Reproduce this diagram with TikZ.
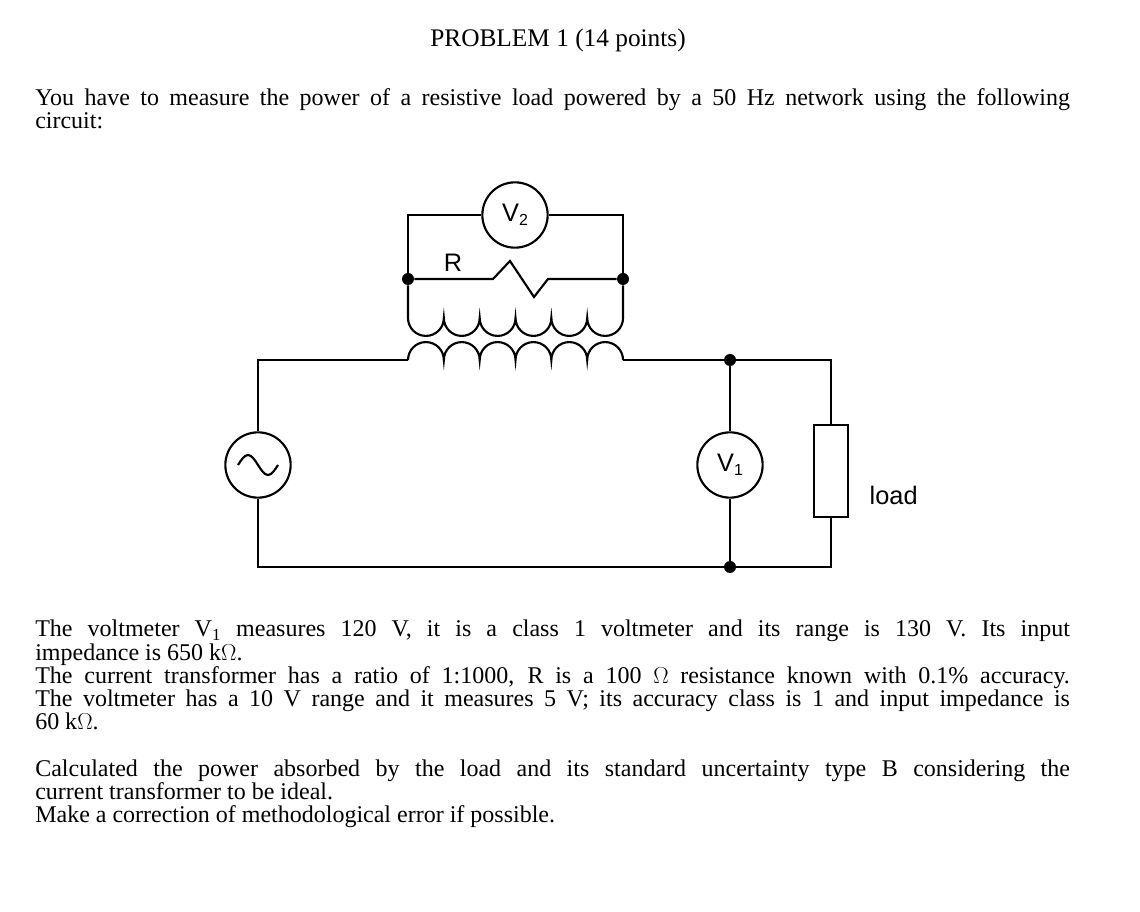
\documentclass[tikz,border=0pt]{standalone}
\usepackage{fontspec}
\setmainfont{Liberation Serif}
\newfontfamily\cirfont{Liberation Sans}
\usetikzlibrary{positioning}
\begin{document}
\begin{tikzpicture}
	[
	x=0.75pt, y=-0.75pt,
	meter/.style ={circle, draw=black, line width=1.6pt, minimum size=49pt, inner sep=0pt, font=\cirfont\fontsize{19}{19}\selectfont},
	wire/.style ={line width=1.6pt},
	dot/.style ={circle, fill=black, inner sep=0pt, minimum size=9pt},
	para/.style ={anchor=north west, text width=776pt, align=justify, inner sep=0pt, font=\fontsize{18}{17.4}\selectfont}
	]
	\useasboundingbox (0,0) rectangle (1140,912);
	% texts
	\node[font=\fontsize{19}{19}\selectfont] (title) at (558,40) {PROBLEM 1 (14 points)};
	\node[para] (intro) at (35,88)
		{You have to measure the power of a resistive load powered by a 50 Hz network using the following\linebreak circuit:};
	\node[para] (data) at (35,620)
		{The voltmeter V\textsubscript{1} measures 120 V, it is a class 1 voltmeter and its range is 130 V. Its input\linebreak impedance is 650 k$\Omega$.\\
		The current transformer has a ratio of 1:1000, R is a 100 $\Omega$ resistance known with 0.1\% accuracy.\linebreak The voltmeter has a 10 V range and it measures 5 V; its accuracy class is 1 and input impedance is\linebreak 60 k$\Omega$.\\[17.4pt]
		Calculated the power absorbed by the load and its standard uncertainty type B considering the\linebreak current transformer to be ideal.\\
		Make a correction of methodological error if possible.};
	% circuit
	\node[meter] (src) at (258,465) {};
	\draw[wire] (src.center) ++(-20,0) sin ++(10,-10) cos ++(10,10) sin ++(10,10) cos ++(10,-10);
	\node[meter] (v1) at (730,465) {V\raisebox{-0.3ex}{\fontsize{12}{12}\selectfont 1}};
	\node[meter] (v2) at (515,215) {V\raisebox{-0.3ex}{\fontsize{12}{12}\selectfont 2}};
	\node[draw, line width=1.6pt, minimum width=25pt, minimum height=69pt, inner sep=0pt] (load) at (831,471) {};
	\node[font=\cirfont\fontsize{19}{19}\selectfont, anchor=west] (lbl) at (865,495) {load};
	\node[font=\cirfont\fontsize{19}{19}\selectfont] (rlbl) at (453,263) {R};
	\node[dot] (pl) at (408,279) {};
	\node[dot] (pr) at (623,279) {};
	\node[dot] (nt) at (730,360) {};
	\node[dot] (nb) at (730,567) {};
	\coordinate (pa) at (408,360);
	\coordinate (pb) at (623,360);
	% secondary loop
	\draw[wire] (v2) -| (pl);
	\draw[wire] (v2) -| (pr);
	\draw[wire] (pl) -- (493,279) -- (510,261) -- (534,297) -- (548,279) -- (pr);
	\draw[wire] (pl) -- (408,318) \foreach \i in {1,...,6} {arc (180:0:17.92)} -- (pr);
	% primary
	\draw[wire] (pa) \foreach \i in {1,...,6} {arc (180:360:17.92)};
	\draw[wire] (src) |- (pa);
	\draw[wire] (pb) -- (nt) -| (load);
	\draw[wire] (nt) -- (v1);
	\draw[wire] (src) |- (nb) -| (load);
	\draw[wire] (nb) -- (v1);
\end{tikzpicture}
\end{document}
